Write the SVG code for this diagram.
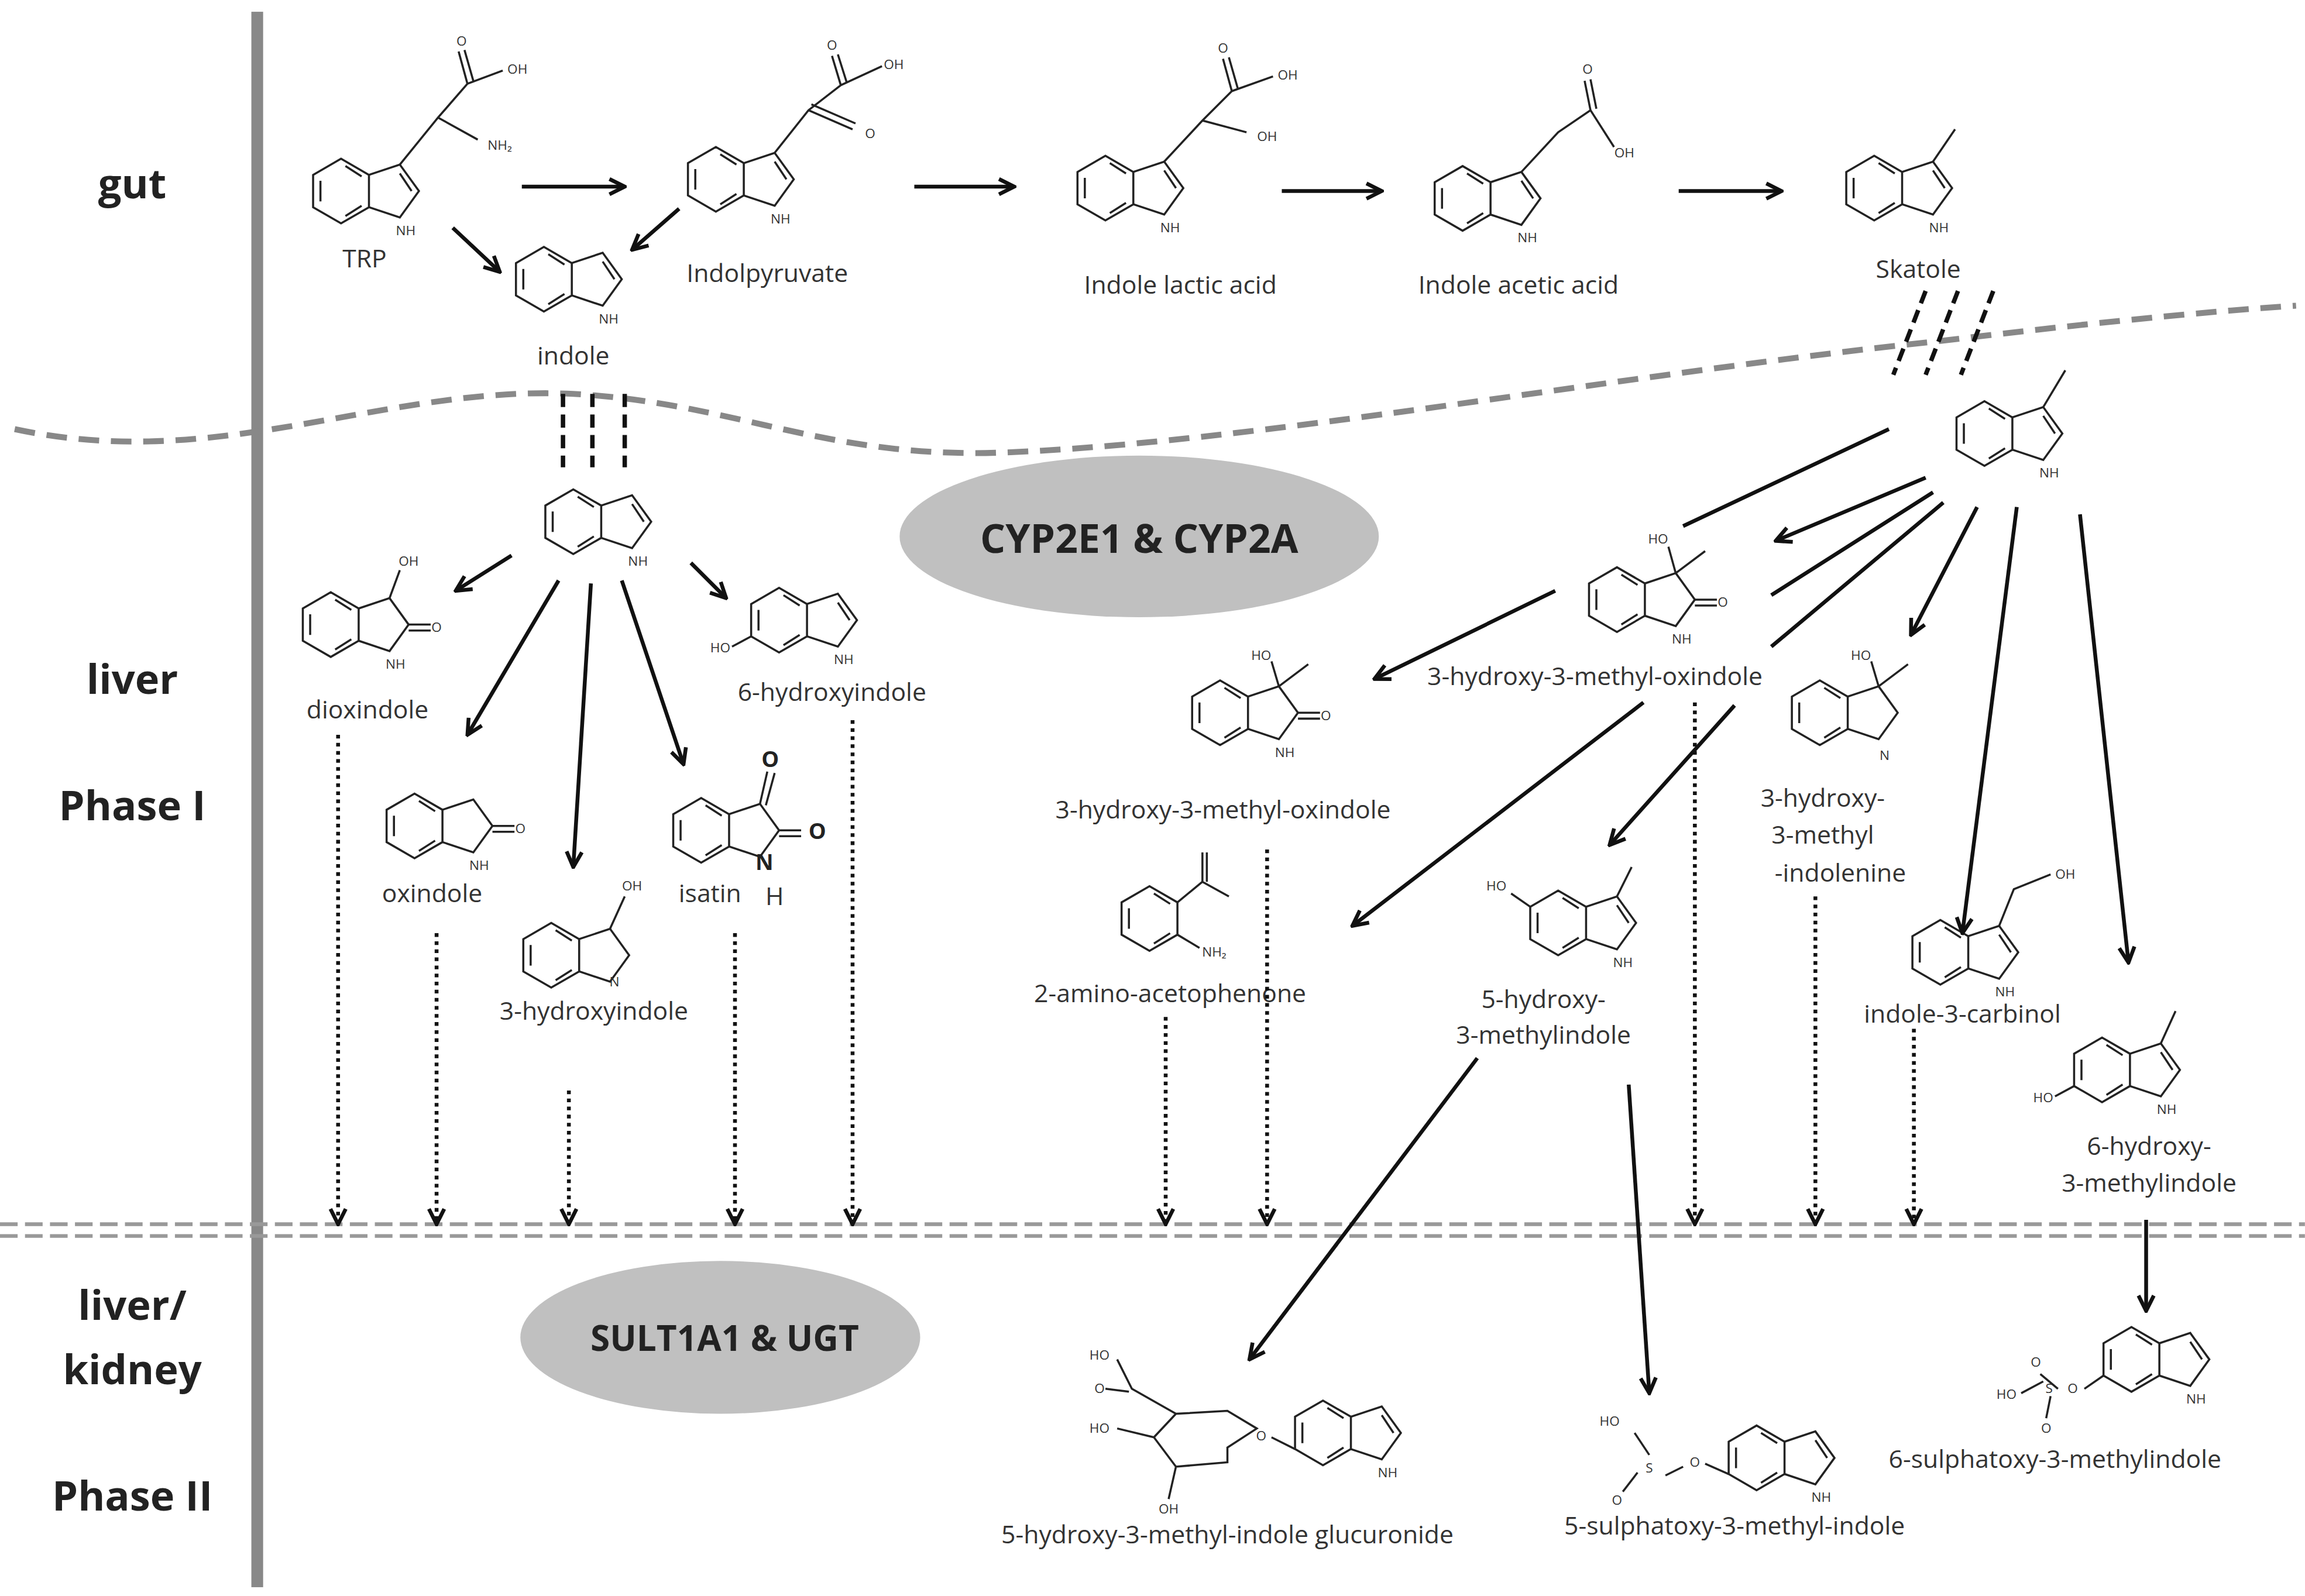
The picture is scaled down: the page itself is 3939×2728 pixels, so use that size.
<svg xmlns="http://www.w3.org/2000/svg" xmlns:xlink="http://www.w3.org/1999/xlink" width="3939" height="2728" viewBox="0 0 3939 2728">
<style>
.m{fill:none;stroke:#222;stroke-width:1.4}
.a{fill:none;stroke:#111;stroke-width:2.6}
.d{fill:none;stroke:#111;stroke-width:2.6;stroke-dasharray:2.5 3}
.t{font-family:"Open Sans","Liberation Sans",sans-serif;font-size:17px;fill:#333;text-anchor:middle}
.s{font-family:"Open Sans","Liberation Sans",sans-serif;font-size:9px;fill:#333;text-anchor:middle}
.r{font-family:"Open Sans","Liberation Sans",sans-serif;font-size:28px;font-weight:bold;fill:#222;text-anchor:middle}
.e{font-family:"Open Sans","Liberation Sans",sans-serif;font-weight:bold;fill:#222;text-anchor:middle}
</style>
<defs>
<marker id="h" viewBox="0 0 10 10" refX="9" refY="5" markerWidth="5" markerHeight="5" orient="auto" markerUnits="strokeWidth"><path d="M1,1 L9,5 L1,9" fill="none" stroke="#111" stroke-width="2"/></marker>
<g id="bz" class="m"><path d="M0,-22 L19,-11 L19,11 L0,22 L-19,11 L-19,-11 Z"/><path d="M-14,-7 L-14,7 M3,-17 L14,-10 M3,17 L14,10"/></g>
<g id="core" class="m"><use xlink:href="#bz"/><path d="M19,-11 L40,-18 L53,0 L40,18 L19,11"/></g>
<g id="ind"><use xlink:href="#core"/><path class="m" d="M40,-12 L48,0"/><text class="s" x="44" y="30">NH</text></g>
<g id="oxi"><use xlink:href="#core"/><path class="m" d="M53,0 L68,0 M53,4 L68,4"/><text class="s" x="72" y="5">O</text><text class="s" x="44" y="30">NH</text></g>
</defs>
<rect width="3939" height="2728" fill="#fff"/>
<g transform="scale(2.512)">
<g id="background">
<rect x="171" y="8" width="8" height="1072" fill="#888"/>
<path d="M10,292 C150,322 260,262 390,268 C500,274 560,312 680,308 C850,302 1100,255 1320,232 C1420,220 1500,212 1562,208" fill="none" stroke="#888" stroke-width="4" stroke-dasharray="14 8"/>
<path d="M0,833 H1568 M0,841 H1568" stroke="#999" stroke-width="2.5" stroke-dasharray="12 5"/>
</g>
<g id="regions">
<text class="r" x="90" y="135">gut</text><text class="r" x="90" y="472">liver</text><text class="r" x="90" y="558">Phase I</text>
<text class="r" x="90" y="898">liver/</text><text class="r" x="90" y="942">kidney</text><text class="r" x="90" y="1028">Phase II</text>
</g>
<g id="enzymes">
<ellipse cx="775" cy="365" rx="163" ry="55" fill="#c0c0c0"/><text class="e" x="775" y="376" font-size="27">CYP2E1 &amp; CYP2A</text>
<ellipse cx="490" cy="910" rx="136" ry="52" fill="#c0c0c0"/><text class="e" x="493" y="919" font-size="24">SULT1A1 &amp; UGT</text>
</g>
<g id="TRP"><use xlink:href="#ind" x="232" y="130"/><path class="m" d="M272,112 L298,80 L318,57 M318,57 L312,35 M322,55 L316,34 M318,57 L342,48 M298,80 L325,95"/><text class="s" x="314" y="31">O</text><text class="s" x="352" y="50">OH</text><text class="s" x="340" y="102">NH₂</text><text class="t" x="248" y="182">TRP</text></g>
<g id="indolpyruvate"><use xlink:href="#ind" x="487" y="122"/><path class="m" d="M527,104 L550,75 L572,58 L566,38 M576,56 L570,37 M572,58 L600,45 M550,75 L580,88 M552,71 L582,84"/><text class="s" x="566" y="34">O</text><text class="s" x="608" y="47">OH</text><text class="s" x="592" y="94">O</text><text class="t" x="522" y="192">Indolpyruvate</text></g>
<g id="indole"><use xlink:href="#ind" x="370" y="190"/><text class="t" x="390" y="248">indole</text></g>
<g id="ila"><use xlink:href="#ind" x="752" y="128"/><path class="m" d="M792,110 L818,82 L838,62 L832,40 M842,60 L836,39 M838,62 L866,52 M818,82 L848,90"/><text class="s" x="832" y="36">O</text><text class="s" x="876" y="54">OH</text><text class="s" x="862" y="96">OH</text><text class="t" x="803" y="200">Indole lactic acid</text></g>
<g id="iaa"><use xlink:href="#ind" x="995" y="135"/><path class="m" d="M1035,117 L1060,90 L1082,75 L1078,55 M1086,74 L1082,54 M1082,75 L1098,100"/><text class="s" x="1080" y="50">O</text><text class="s" x="1105" y="107">OH</text><text class="t" x="1033" y="200">Indole acetic acid</text></g>
<g id="skatole"><use xlink:href="#ind" x="1275" y="128"/><path class="m" d="M1315,110 L1330,88"/><text class="t" x="1305" y="189">Skatole</text></g>
<g id="skatole2"><use xlink:href="#ind" x="1350" y="295"/><path class="m" d="M1390,277 L1405,252"/></g>
<g id="indole2"><use xlink:href="#ind" x="390" y="355"/></g>
<g id="dioxindole"><use xlink:href="#oxi" x="225" y="425"/><path class="m" d="M265,407 L272,388"/><text class="s" x="278" y="385">OH</text><text class="t" x="250" y="489">dioxindole</text></g>
<g id="hydroxyindole6"><use xlink:href="#ind" x="530" y="422"/><path class="m" d="M511,433 L498,440"/><text class="s" x="490" y="444">HO</text><text class="t" x="566" y="477">6-hydroxyindole</text></g>
<g id="oxindole"><use xlink:href="#oxi" x="282" y="562"/><text class="t" x="294" y="614">oxindole</text></g>
<g id="hydroxyindole3"><use xlink:href="#core" x="375" y="650"/><path class="m" d="M415,632 L425,610"/><text class="s" x="430" y="606">OH</text><text class="s" x="418" y="671">N</text><text class="t" x="404" y="694">3-hydroxyindole</text></g>
<g id="isatin"><use xlink:href="#core" x="477" y="565"/><path class="m" d="M517,547 L522,525 M521,548 L527,526 M530,565 L545,565 M530,569 L545,569"/><text class="e" x="524" y="522" font-size="15">O</text><text class="e" x="556" y="571" font-size="15">O</text><text class="e" x="520" y="592" font-size="15">N</text><text class="t" x="483" y="614">isatin</text><text class="t" x="527" y="616">H</text></g>
<g id="hmo1"><use xlink:href="#oxi" x="1100" y="408"/><path class="m" d="M1140,390 L1135,372 M1140,390 L1160,375"/><text class="s" x="1128" y="370">HO</text><text class="t" x="1085" y="466">3-hydroxy-3-methyl-oxindole</text></g>
<g id="hmo2"><use xlink:href="#oxi" x="830" y="485"/><path class="m" d="M870,467 L865,450 M870,467 L890,452"/><text class="s" x="858" y="449">HO</text><text class="t" x="832" y="557">3-hydroxy-3-methyl-oxindole</text></g>
<g id="indolenine"><use xlink:href="#core" x="1238" y="485"/><path class="m" d="M1278,467 L1273,450 M1278,467 L1298,452"/><text class="s" x="1266" y="449">HO</text><text class="s" x="1282" y="517">N</text><text class="t" x="1240" y="549">3-hydroxy-</text><text class="t" x="1240" y="574">3-methyl</text><text class="t" x="1252" y="600">-indolenine</text></g>
<g id="aap"><use xlink:href="#bz" x="782" y="625"/><path class="m" d="M801,614 L818,600 L818,580 M821,600 L821,580 M818,600 L836,610 M801,636 L816,645"/><text class="s" x="826" y="651">NH₂</text><text class="t" x="796" y="682">2-amino-acetophenone</text></g>
<g id="h5mi"><use xlink:href="#ind" x="1060" y="628"/><path class="m" d="M1100,610 L1110,590 M1041,617 L1028,608"/><text class="s" x="1018" y="606">HO</text><text class="t" x="1050" y="686">5-hydroxy-</text><text class="t" x="1050" y="710">3-methylindole</text></g>
<g id="carbinol"><use xlink:href="#ind" x="1320" y="648"/><path class="m" d="M1360,630 L1370,605 L1395,595"/><text class="s" x="1405" y="598">OH</text><text class="t" x="1335" y="696">indole-3-carbinol</text></g>
<g id="h6mi"><use xlink:href="#ind" x="1430" y="728"/><path class="m" d="M1470,710 L1480,688 M1411,739 L1398,746"/><text class="s" x="1390" y="750">HO</text><text class="t" x="1462" y="786">6-hydroxy-</text><text class="t" x="1462" y="811">3-methylindole</text></g>
<g id="glucuronide"><use xlink:href="#ind" x="900" y="975"/><path class="m" d="M881,986 L865,978 M835,985 L855,972 L835,960 L800,962 L785,978 L800,998 L835,995 Z M800,962 L770,945 L760,925 M768,947 L752,945 M785,978 L760,972 M800,998 L795,1020"/><text class="s" x="858" y="980">O</text><text class="s" x="748" y="925">HO</text><text class="s" x="748" y="948">O</text><text class="s" x="748" y="975">HO</text><text class="s" x="795" y="1030">OH</text><text class="t" x="835" y="1050">5-hydroxy-3-methyl-indole glucuronide</text></g>
<g id="s5mi"><use xlink:href="#ind" x="1195" y="992"/><path class="m" d="M1176,1003 L1160,996 M1145,998 L1133,1004 M1122,990 L1112,975 M1114,1002 L1104,1015"/><text class="s" x="1153" y="998">O</text><text class="s" x="1122" y="1002">S</text><text class="s" x="1095" y="970">HO</text><text class="s" x="1100" y="1024">O</text><text class="t" x="1180" y="1044">5-sulphatoxy-3-methyl-indole</text></g>
<g id="s6mi"><use xlink:href="#ind" x="1450" y="925"/><path class="m" d="M1431,936 L1418,945 M1400,945 L1388,935 M1390,940 L1375,948 M1395,950 L1392,965"/><text class="s" x="1410" y="948">O</text><text class="s" x="1394" y="948">S</text><text class="s" x="1365" y="952">HO</text><text class="s" x="1385" y="930">O</text><text class="s" x="1392" y="975">O</text><text class="t" x="1398" y="999">6-sulphatoxy-3-methylindole</text></g>
<g id="connectors">
<line class="a" marker-end="url(#h)" x1="355" y1="127" x2="425" y2="127"/>
<line class="a" marker-end="url(#h)" x1="308" y1="155" x2="340" y2="185"/>
<line class="a" marker-end="url(#h)" x1="462" y1="142" x2="430" y2="170"/>
<line class="a" marker-end="url(#h)" x1="622" y1="127" x2="690" y2="127"/>
<line class="a" marker-end="url(#h)" x1="872" y1="130" x2="940" y2="130"/>
<line class="a" marker-end="url(#h)" x1="1142" y1="130" x2="1212" y2="130"/>
<path d="M1310,198 L1288,255 M1332,198 L1310,255 M1356,198 L1334,255 M383,268 V318 M403,268 V318 M425,268 V318" stroke="#111" stroke-width="3" stroke-dasharray="9 5"/>
<line class="a" marker-end="url(#h)" x1="348" y1="378" x2="310" y2="402"/>
<line class="a" marker-end="url(#h)" x1="380" y1="395" x2="318" y2="500"/>
<line class="a" marker-end="url(#h)" x1="402" y1="397" x2="390" y2="590"/>
<line class="a" marker-end="url(#h)" x1="423" y1="395" x2="465" y2="520"/>
<line class="a" marker-end="url(#h)" x1="470" y1="383" x2="494" y2="407"/>
<path class="a" d="M1285,292 L1145,358 M1315,335 L1205,405 M1322,342 L1205,440"/>
<line class="a" marker-end="url(#h)" x1="1310" y1="325" x2="1208" y2="368"/>
<line class="a" marker-end="url(#h)" x1="1058" y1="402" x2="935" y2="462"/>
<line class="a" marker-end="url(#h)" x1="1118" y1="478" x2="920" y2="630"/>
<line class="a" marker-end="url(#h)" x1="1180" y1="480" x2="1095" y2="575"/>
<line class="a" marker-end="url(#h)" x1="1345" y1="345" x2="1300" y2="432"/>
<line class="a" marker-end="url(#h)" x1="1372" y1="345" x2="1335" y2="635"/>
<line class="a" marker-end="url(#h)" x1="1415" y1="350" x2="1448" y2="655"/>
<line class="a" marker-end="url(#h)" x1="1005" y1="720" x2="850" y2="925"/>
<line class="a" marker-end="url(#h)" x1="1108" y1="738" x2="1122" y2="948"/>
<line class="a" marker-end="url(#h)" x1="1460" y1="830" x2="1460" y2="892"/>
<line class="d" marker-end="url(#h)" x1="230" y1="500" x2="230" y2="833"/>
<line class="d" marker-end="url(#h)" x1="297" y1="635" x2="297" y2="833"/>
<line class="d" marker-end="url(#h)" x1="387" y1="742" x2="387" y2="833"/>
<line class="d" marker-end="url(#h)" x1="500" y1="635" x2="500" y2="833"/>
<line class="d" marker-end="url(#h)" x1="580" y1="490" x2="580" y2="833"/>
<line class="d" marker-end="url(#h)" x1="793" y1="692" x2="793" y2="833"/>
<line class="d" marker-end="url(#h)" x1="862" y1="578" x2="862" y2="833"/>
<line class="d" marker-end="url(#h)" x1="1153" y1="478" x2="1153" y2="833"/>
<line class="d" marker-end="url(#h)" x1="1235" y1="610" x2="1235" y2="833"/>
<line class="d" marker-end="url(#h)" x1="1302" y1="700" x2="1302" y2="833"/>
</g>
</g>
</svg>
